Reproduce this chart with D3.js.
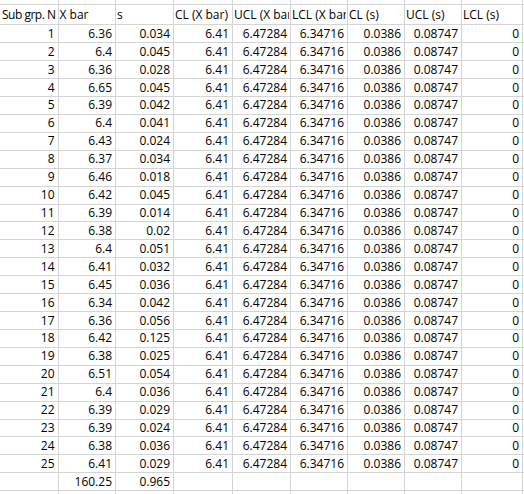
<!DOCTYPE html>
<html><head><meta charset="utf-8">
<script src="https://cdn.jsdelivr.net/npm/d3@7"></script>
<style>body{margin:0;background:#fff}</style>
</head><body>
<svg id="c" width="524" height="494"></svg>
<script>
const headers = ["Sub grp. N", "X bar", "s", "CL (X bar)", "UCL (X bar", "LCL (X bar)", "CL (s)", "UCL (s)", "LCL (s)"];
const xbar = [6.36, 6.4, 6.36, 6.65, 6.39, 6.4, 6.43, 6.37, 6.46, 6.42, 6.39, 6.38, 6.4, 6.41, 6.45, 6.34, 6.36, 6.42, 6.38, 6.51, 6.4, 6.39, 6.39, 6.38, 6.41];
const sVals = [0.034, 0.045, 0.028, 0.045, 0.042, 0.041, 0.024, 0.034, 0.018, 0.045, 0.014, 0.02, 0.051, 0.032, 0.036, 0.042, 0.056, 0.125, 0.025, 0.054, 0.036, 0.029, 0.024, 0.036, 0.029];
const clX = "6.41", uclX = "6.47284", lclX = "6.34716", clS = "0.0386", uclS = "0.08747", lclS = "0";
const totals = ["", "160.25", "0.965", "", "", "", "", "", ""];

const colEdges = [0, 57.5, 115, 173, 232, 290, 347, 404, 461, 522];
const headerTop = 4.3, headerBottom = 24.3, rowH = 17.92;

const rows = xbar.map((v, i) => [String(i + 1), String(v), String(sVals[i]), clX, uclX, lclX, clS, uclS, lclS]);
rows.push(totals);

const svg = d3.select("#c");
const nRows = rows.length;
const y = d3.scaleLinear().domain([0, nRows + 1]).range([headerBottom, headerBottom + rowH * (nRows + 1)]);

const g = svg.append("g");
const hLines = [headerTop].concat(d3.range(0, nRows + 2).map(y));
g.selectAll("line.h").data(hLines).join("line")
  .attr("x1", 0).attr("x2", 524).attr("y1", d => Math.round(d) + 0.5).attr("y2", d => Math.round(d) + 0.5)
  .attr("stroke", "#d4d4d4");
g.selectAll("line.v").data(colEdges.slice(1)).join("line")
  .attr("x1", d => Math.round(d) + 0.5).attr("x2", d => Math.round(d) + 0.5)
  .attr("y1", 0).attr("y2", 494).attr("stroke", "#d4d4d4");

const font = "'Open Sans', sans-serif";
// header: left aligned, clipped to its cell
headers.forEach((h, j) => {
  svg.append("clipPath").attr("id", "cp" + j).append("rect")
    .attr("x", colEdges[j]).attr("y", 0).attr("width", colEdges[j + 1] - colEdges[j] - 1).attr("height", 30);
  svg.append("text").attr("x", colEdges[j] + 2).attr("y", 19)
    .attr("clip-path", "url(#cp" + j + ")")
    .attr("font-family", font).attr("font-size", 12).attr("textLength", j === 0 ? 54 : null)
    .attr("fill", "#000").text(h);
});

rows.forEach((r, i) => {
  r.forEach((t, j) => {
    if (!t) return;
    svg.append("text").attr("x", colEdges[j + 1] - 3).attr("y", y(i) + 13.5)
      .attr("text-anchor", "end").attr("font-family", font).attr("font-size", 12)
      .attr("fill", "#000").text(t);
  });
});
</script>
</body></html>
